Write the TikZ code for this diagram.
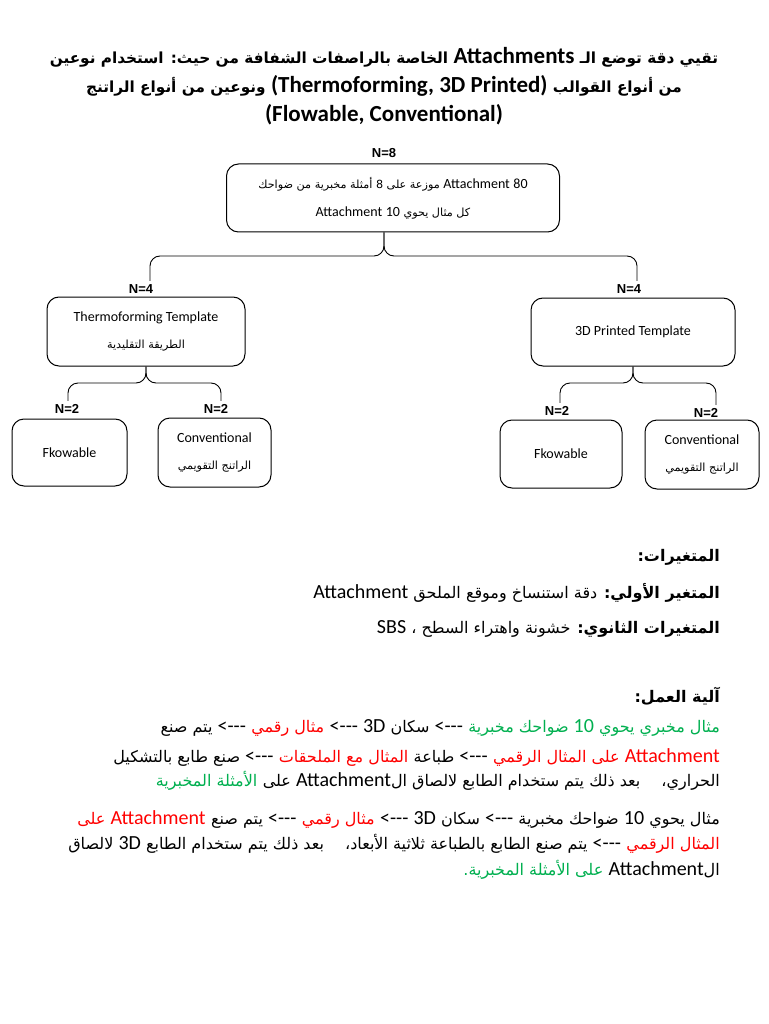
\documentclass[tikz,border=0pt]{standalone}
\usepackage{fontspec}
\usepackage{xcolor}
\setmainfont{Carlito}
\newfontfamily\latinfont{Carlito}
\newfontfamily\arabicfont[Script=Arabic,Scale=0.8]{DejaVu Sans}
\newfontfamily\arabictitle[Script=Arabic,Scale=0.665]{DejaVu Sans}
\newfontfamily\labelfont{Liberation Sans}
\TeXXeTstate=1
\usetikzlibrary{positioning}
\definecolor{labgreen}{RGB}{0,176,80}
\definecolor{labred}{RGB}{255,0,0}
% latin run and arrow inside right-to-left lines
\newcommand{\eng}[1]{{\latinfont\beginL #1\endL}}
\newcommand{\arr}{\eng{<{-}{-}{-}}}

\begin{document}
\begin{tikzpicture}[x=1pt, y=-1pt,
    box/.style={draw, rounded corners=12pt, line width=1pt, align=center, inner sep=0pt, font=\fontsize{14}{17}\selectfont},
    nlabel/.style={font=\labelfont\bfseries\fontsize{13}{15}\selectfont},
    title/.style={font=\arabictitle\bfseries\fontsize{23}{28}\selectfont},
    artext/.style={anchor=base east, inner sep=0pt, font=\arabicfont\fontsize{20}{24}\selectfont},
    brace/.style={line width=0.9pt, rounded corners=10pt}]
    \fill [white] (0,0) rectangle (768,1024);
    \useasboundingbox (0,0) rectangle (768,1024);
    % title
    \node [title] (t1) at (384,57) {\beginR تقيي دقة توضع الـ \eng{Attachments} الخاصة بالراصفات الشفافة من حيث: استخدام نوعين\endR};
    \node [title] (t2) at (384,86) {\beginR من أنواع القوالب \eng{(Thermoforming, 3D Printed)} ونوعين من أنواع الراتنج\endR};
    \node [title] (t3) at (384,115) {\eng{(Flowable, Conventional)}};
    % tree
    \node [nlabel] (n8) at (384,153) {N=8};
    \node [box, minimum width=333pt, minimum height=68pt] (all) at (393,198) {{\arabicfont\beginR \eng{80} \eng{Attachment} موزعة على 8 أمثلة مخبرية من ضواحك\endR}\\[11pt] {\arabicfont\beginR كل مثال يحوي \eng{10} \eng{Attachment}\endR}};
    \node [nlabel] (n4a) at (141,289) {N=4};
    \node [nlabel] (n4b) at (629,289) {N=4};
    \node [box, minimum width=198pt, minimum height=69pt] (thermo) at (146,331.5) {Thermoforming Template\\[10pt] {\arabicfont\beginR الطريقة التقليدية\endR}};
    \node [box, minimum width=204pt, minimum height=68pt] (printed) at (633,332) {3D Printed Template};
    \node [nlabel] (n2a) at (67,409) {N=2};
    \node [nlabel] (n2b) at (216,409) {N=2};
    \node [nlabel] (n2c) at (557,411) {N=2};
    \node [nlabel] (n2d) at (706,413) {N=2};
    \node [box, minimum width=115pt, minimum height=67pt] (flowa) at (69.5,452.5) {Fkowable};
    \node [box, minimum width=113pt, minimum height=69pt] (conva) at (214.5,452.5) {Conventional\\[10pt] {\arabicfont\beginR الراتنج التقويمي\endR}};
    \node [box, minimum width=122pt, minimum height=68pt] (flowb) at (561,454) {Fkowable};
    \node [box, minimum width=114pt, minimum height=69pt] (convb) at (702,454.5) {Conventional\\[10pt] {\arabicfont\beginR الراتنج التقويمي\endR}};
    % braces
    \draw [brace] ([xshift=9pt]n4a.north) |- (384,256) -- (n8 |- all.south);
    \draw [brace] ([xshift=8pt]n4b.north) |- (384,256) -- (n8 |- all.south);
    \draw [brace] ([xshift=1pt]n2a.north) |- (146,383) -- (thermo.south);
    \draw [brace] ([xshift=5pt]n2b.north) |- (146,383) -- (thermo.south);
    \draw [brace] ([xshift=3pt]n2c.north) |- (633,383) -- (printed.south);
    \draw [brace] ([xshift=10pt]n2d.north) |- (633,383) -- (printed.south);
    % variables
    \node [artext] (h1) at (720,561) {\bfseries\beginR المتغيرات:\endR};
    \node [artext] (v1) at (720,598) {\beginR {\bfseries المتغير الأولي:} دقة استنساخ وموقع الملحق \eng{Attachment}\endR};
    \node [artext] (v2) at (720,633) {\beginR {\bfseries المتغيرات الثانوي:} خشونة واهتراء السطح ، \eng{SBS}\endR};
    % method, first way
    \node [artext] (h2) at (720,702) {\bfseries\beginR آلية العمل:\endR};
    \node [artext, text=labgreen] (p1a1) at (720,732) {\beginR مثال مخبري يحوي \eng{10} ضواحك مخبرية\endR};
    \node [artext] (p1a2) at ([xshift=-5pt]p1a1.base west) {\beginR \arr{} سكان \eng{3D} \arr{}\endR};
    \node [artext, text=labred] (p1a3) at ([xshift=-5pt]p1a2.base west) {\beginR مثال رقمي\endR};
    \node [artext] (p1a4) at ([xshift=-5pt]p1a3.base west) {\beginR \arr{} يتم صنع\endR};
    \node [artext, text=labred] (p1b1) at (720,762) {\beginR \eng{Attachment} على المثال الرقمي\endR};
    \node [artext] (p1b2) at ([xshift=-5pt]p1b1.base west) {\beginR \arr{} طباعة\endR};
    \node [artext, text=labred] (p1b3) at ([xshift=-5pt]p1b2.base west) {\beginR المثال مع الملحقات\endR};
    \node [artext] (p1b4) at ([xshift=-5pt]p1b3.base west) {\beginR \arr{} صنع طابع بالتشكيل\endR};
    \node [artext] (p1c1) at (720,786) {\beginR الحراري، \quad بعد ذلك يتم ستخدام الطابع لالصاق ال\eng{Attachment} على\endR};
    \node [artext, text=labgreen] (p1c2) at ([xshift=-5pt]p1c1.base west) {\beginR الأمثلة المخبرية\endR};
    % method, second way
    \node [artext] (p2a1) at (720,824) {\beginR مثال يحوي \eng{10} ضواحك مخبرية \arr{} سكان \eng{3D} \arr{}\endR};
    \node [artext, text=labred] (p2a2) at ([xshift=-5pt]p2a1.base west) {\beginR مثال رقمي\endR};
    \node [artext] (p2a3) at ([xshift=-5pt]p2a2.base west) {\beginR \arr{} يتم صنع\endR};
    \node [artext, text=labred] (p2a4) at ([xshift=-5pt]p2a3.base west) {\beginR \eng{Attachment} على\endR};
    \node [artext, text=labred] (p2b1) at (720,849) {\beginR المثال الرقمي\endR};
    \node [artext] (p2b2) at ([xshift=-5pt]p2b1.base west) {\beginR \arr{} يتم صنع الطابع بالطباعة ثلاثية الأبعاد، \quad بعد ذلك يتم ستخدام الطابع \eng{3D} لالصاق\endR};
    \node [artext] (p2c1) at (720,875) {\beginR ال\eng{Attachment}\endR};
    \node [artext, text=labgreen] (p2c2) at ([xshift=-5pt]p2c1.base west) {\beginR على الأمثلة المخبرية.\endR};
\end{tikzpicture}
\end{document}
